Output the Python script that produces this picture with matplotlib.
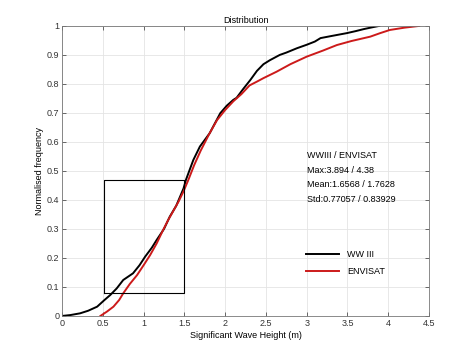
import numpy as np
import matplotlib.pyplot as plt

plt.rcParams['font.family'] = ['Liberation Sans', 'DejaVu Sans']

# WW III cumulative distribution
ww3_x = [0, 0.1, 0.22, 0.32, 0.43, 0.52, 0.59, 0.67, 0.75, 0.87, 0.95, 1.02, 1.1, 1.16,
         1.25, 1.32, 1.4, 1.49, 1.52, 1.61, 1.69, 1.81, 1.94, 2.02, 2.10, 2.14, 2.22, 2.31,
         2.39, 2.47, 2.55, 2.67, 2.75, 2.88, 3.0, 3.10, 3.17, 3.3, 3.49, 3.6, 3.70, 3.8, 3.89]
ww3_y = [0, 0.003, 0.009, 0.018, 0.032, 0.055, 0.072, 0.095, 0.124, 0.147, 0.175, 0.205,
         0.235, 0.262, 0.30, 0.342, 0.38, 0.44, 0.47, 0.538, 0.584, 0.63, 0.699, 0.725,
         0.745, 0.752, 0.782, 0.814, 0.845, 0.868, 0.882, 0.9, 0.908, 0.923, 0.935, 0.946,
         0.958, 0.965, 0.975, 0.982, 0.989, 0.995, 1.0]

# ENVISAT cumulative distribution
env_x = [0.47, 0.55, 0.63, 0.7, 0.75, 0.83, 0.92, 1.0, 1.08, 1.16, 1.24, 1.3, 1.36, 1.43,
         1.49, 1.55, 1.62, 1.7, 1.8, 1.9, 2.0, 2.1, 2.2, 2.3, 2.39, 2.47, 2.63, 2.8, 3.0,
         3.2, 3.37, 3.55, 3.78, 3.9, 4.02, 4.2, 4.38]
env_y = [0, 0.015, 0.032, 0.055, 0.078, 0.11, 0.141, 0.175, 0.21, 0.25, 0.297, 0.33, 0.36,
         0.395, 0.43, 0.47, 0.52, 0.57, 0.625, 0.675, 0.71, 0.74, 0.765, 0.795, 0.808,
         0.82, 0.842, 0.868, 0.894, 0.915, 0.934, 0.948, 0.963, 0.975, 0.986, 0.994, 1.0]

# zoom box
box_x = [0.52, 1.5]
box_y = [0.08, 0.47]

stats_lines = ["WWIII / ENVISAT", "Max:3.894 / 4.38", "Mean:1.6568 / 1.7628",
               "Std:0.77057 / 0.83929"]

fig = plt.figure(figsize=(4.74, 3.55), dpi=100)
ax = fig.add_axes([0.131, 0.110, 0.774, 0.817])

fs = 6.5
l1, = ax.plot(ww3_x, ww3_y, color='black', lw=1.4, label='WW III')
l2, = ax.plot(env_x, env_y, color='#cc1a1a', lw=1.4, label='ENVISAT')

ax.plot([box_x[0], box_x[1], box_x[1], box_x[0], box_x[0]],
        [box_y[0], box_y[0], box_y[1], box_y[1], box_y[0]], color='black', lw=0.8)

ax.set_xlim(0, 4.5)
ax.set_ylim(0, 1)
ax.set_xticks(np.arange(0, 4.51, 0.5))
ax.set_yticks(np.arange(0, 1.01, 0.1))
ax.set_xticklabels(['0', '0.5', '1', '1.5', '2', '2.5', '3', '3.5', '4', '4.5'])
ax.set_yticklabels(['0', '0.1', '0.2', '0.3', '0.4', '0.5', '0.6', '0.7', '0.8', '0.9', '1'])
ax.grid(True, color='#e4e4e4', lw=0.6)
ax.set_axisbelow(True)
ax.tick_params(direction='in', top=True, right=True, length=3, width=0.5,
               labelsize=fs, colors='#333333', pad=2)
for s in ax.spines.values():
    s.set_color('#777777')
    s.set_linewidth(0.6)

ax.set_title('Distribution', fontsize=fs, pad=2)
ax.set_xlabel('Significant Wave Height (m)', fontsize=fs, labelpad=2)
ax.set_ylabel('Normalised frequency', fontsize=fs, labelpad=2)

for i, t in enumerate(stats_lines):
    ax.text(3.0, 0.552 - i * 0.050, t, fontsize=fs, va='center', ha='left')

ax.legend(handles=[l1, l2], loc='upper left', bbox_to_anchor=(0.665, 0.228),
          frameon=False, fontsize=fs, handlelength=3.66, handletextpad=0.9,
          labelspacing=0.9, borderpad=0, borderaxespad=0)

fig.savefig('out.png', dpi=100)
